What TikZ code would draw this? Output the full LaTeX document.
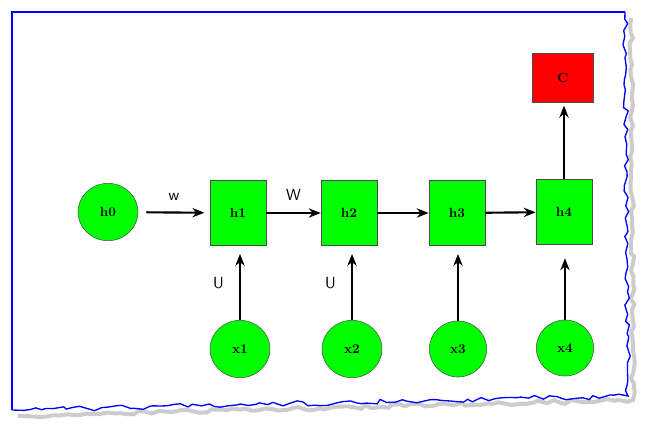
\documentclass[tikz,border=0pt]{standalone}
\usetikzlibrary{shapes.geometric,arrows.meta,decorations.pathmorphing}
\begin{document}
\begin{tikzpicture}[x=0.75pt,y=-0.75pt,
  box/.style={draw=black!70,fill=green,minimum width=42pt,minimum height=49pt,inner sep=0pt,font=\bfseries},
  circ/.style={ellipse,draw=black!70,fill=green,minimum width=45pt,minimum height=43pt,inner sep=0pt,font=\bfseries},
  arr/.style={-{Stealth[length=9pt,width=7pt]},line width=1.6pt},
  lab/.style={font=\sffamily\large}]
\useasboundingbox (0,0) rectangle (647,430);
\fill[white] (0,0) rectangle (647,430);
% shadow
\draw[black!20,line width=3pt,decorate,decoration={random steps,segment length=5pt,amplitude=1.5pt}]
  (631,18) -- (633,400) -- (18,416);
\draw[blue,line width=1pt] (12,410) -- (12,12) -- (625,12);
\draw[blue,line width=1pt,decorate,decoration={random steps,segment length=5pt,amplitude=2pt}]
  (625,12) -- (628,396) -- (12,410);
\node[circ] (h0) at (108,212) {h0};
\node[box] (h1) at (238,213) {h1};
\node[box] (h2) at (349,213) {h2};
\node[box] (h3) at (457,213) {h3};
\node[box] (h4) at (564,212) {h4};
\node[draw=black!70,fill=red,minimum width=46pt,minimum height=37pt,inner sep=0pt,font=\bfseries] (c) at (563,78) {C};
\node[circ] (x1) at (240,349) {x1};
\node[circ] (x2) at (352,349) {x2};
\node[circ,minimum width=43pt,minimum height=42pt] (x3) at (458,349) {x3};
\node[circ,minimum width=43pt,minimum height=42pt] (x4) at (565,348) {x4};
\draw[arr,shorten <=6pt,shorten >=4pt] (h0) -- (h1) node[midway,above=5pt,lab]{w};
\draw[arr] (h1) -- (h2) node[midway,above=5pt,lab]{W};
\draw[arr] (h2) -- (h3);
\draw[arr] (h3) -- (h4);
\draw[arr,shorten >=6pt] (x1) -- (x1|-h1.south) node[midway,left=8pt,lab]{U};
\draw[arr,shorten >=6pt] (x2) -- (x2|-h2.south) node[midway,left=8pt,lab]{U};
\draw[arr,shorten >=6pt] (x3) -- (x3|-h3.south);
\draw[arr,shorten >=10pt] (x4) -- (x4|-h4.south);
\draw[arr,shorten >=2pt] (h4) -- (h4|-c.south);
\end{tikzpicture}
\end{document}
